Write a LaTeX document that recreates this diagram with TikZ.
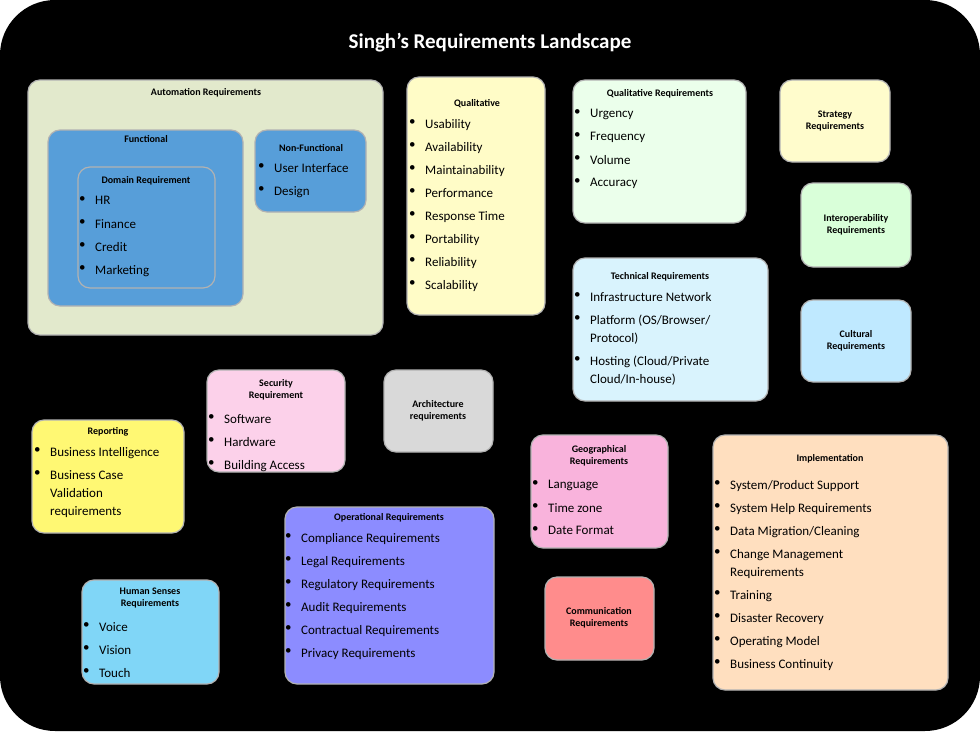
\documentclass[tikz,border=0pt]{standalone}
\usepackage{fontspec}
\setmainfont{Carlito}
\usetikzlibrary{positioning}

\tikzset{
  box/.style={draw=white!70!black, line width=1.2pt, rounded corners=12pt},
  head/.style={font=\bfseries, align=center, inner sep=0pt},
  item/.style={anchor=north west, align=left, inner sep=0pt},
}
% rounded box from corner to corner
\newcommand\rbox[6]{\draw[box, fill=#6] (#2,#3) rectangle (#4,#5) coordinate (#1);}
% bullet item, top at y
\newcommand\bul[4]{%
  \node[item] (#1) at ({#2},{#3-8}) {#4};
  \node[item] (#1-b) at ({#2-16},{#3-8}) {\textbullet};}

\begin{document}
\begin{tikzpicture}[x=1pt, y=-1pt, font=\fontsize{13}{18}\selectfont]
    \useasboundingbox (0,0) rectangle (980,731);
    \fill[black, rounded corners=55pt] (0,0) rectangle (980,731);
    \node[head, text=white, font=\fontsize{21}{24}\selectfont\bfseries] (title) at (490,43) {Singh’s Requirements Landscape};

    % automation
    \rbox{auto}{28}{80}{383}{335}{green!15!olive!20!white}
    \node[head] (autoh) at (206,93) {Automation Requirements};
    \rbox{func}{48}{130}{243}{306}{blue!45!cyan!60!white!85!black}
    \node[head] (funch) at (146,139) {Functional};
    \rbox{dom}{78}{167}{215}{288}{blue!45!cyan!60!white!85!black}
    \node[head] (domh) at (146,181) {Domain Requirement};
    \foreach \t [count=\i from 0] in {HR,Finance,Credit,Marketing}
      {\bul{dom-\i}{95}{204+23*\i}{\t}}
    \rbox{nonf}{255}{130}{366}{212}{blue!45!cyan!60!white!85!black}
    \node[head] (nonfh) at (311,148) {Non-Functional};
    \foreach \t [count=\i from 0] in {User Interface,Design}
      {\bul{nonf-\i}{274}{171+23*\i}{\t}}

    % qualitative
    \rbox{qual}{407}{77}{545}{315}{yellow!22!white}
    \node[head] (qualh) at (477,104) {Qualitative};
    \foreach \t [count=\i from 0] in {Usability,Availability,Maintainability,Performance,Response Time,Portability,Reliability,Scalability}
      {\bul{qual-\i}{425}{127+23*\i}{\t}}

    \rbox{qreq}{573}{80}{746}{223}{green!8!white}
    \node[head] (qreqh) at (660,94) {Qualitative Requirements};
    \foreach \t [count=\i from 0] in {Urgency,Frequency,Volume,Accuracy}
      {\bul{qreq-\i}{590}{117+23*\i}{\t}}

    \rbox{strat}{780}{80}{890}{162}{yellow!20!white}
    \node[head] (strath) at (835,121) {Strategy\\Requirements};
    \rbox{inter}{801}{183}{911}{267}{green!15!white}
    \node[head] (interh) at (856,225) {Interoperability\\Requirements};
    \rbox{cult}{801}{300}{911}{382}{blue!35!cyan!25!white}
    \node[head] (culth) at (856,341) {Cultural\\Requirements};

    % technical
    \rbox{tech}{573}{258}{768}{401}{cyan!15!white}
    \node[head] (techh) at (660,277) {Technical Requirements};
    \bul{tech-0}{590}{300}{Infrastructure Network}
    \bul{tech-1}{590}{323}{Platform (OS/Browser/\\Protocol)}
    \bul{tech-2}{590}{364}{Hosting (Cloud/Private\\Cloud/In-house)}

    % security, architecture
    \rbox{sec}{207}{370}{345}{472}{magenta!18!white}
    \node[head] (sech) at (276,390) {Security\\Requirement};
    \foreach \t [count=\i from 0] in {Software,Hardware,Building Access}
      {\bul{sec-\i}{224}{422+23*\i}{\t}}
    \rbox{arch}{384}{370}{493}{452}{black!15}
    \node[head] (archh) at (438,411) {Architecture\\requirements};

    % reporting
    \rbox{rep}{32}{420}{184}{533}{yellow!55!white}
    \node[head] (reph) at (108,432) {Reporting};
    \bul{rep-0}{50}{455}{Business Intelligence}
    \bul{rep-1}{50}{478}{Business Case\\Validation\\requirements}

    % geographical
    \rbox{geo}{531}{435}{668}{548}{magenta!30!white}
    \node[head] (geoh) at (599,456) {Geographical\\Requirements};
    \foreach \t [count=\i from 0] in {Language,Time zone,Date Format}
      {\bul{geo-\i}{548}{488+23*\i}{\t}}

    % implementation
    \rbox{impl}{713}{435}{948}{690}{orange!25!white}
    \node[head] (implh) at (830,459) {Implementation};
    \bul{impl-0}{730}{488}{System/Product Support}
    \bul{impl-1}{730}{511}{System Help Requirements}
    \bul{impl-2}{730}{534}{Data Migration/Cleaning}
    \bul{impl-3}{730}{557}{Change Management\\Requirements}
    \foreach \t [count=\i from 4] in {Training,Disaster Recovery,Operating Model,Business Continuity}
      {\bul{impl-\i}{730}{598+23*(\i-4)}{\t}}

    % operational
    \rbox{oper}{285}{507}{494}{684}{blue!45!white}
    \node[head] (operh) at (389,518) {Operational Requirements};
    \foreach \t [count=\i from 0] in {Compliance Requirements,Legal Requirements,Regulatory Requirements,Audit Requirements,Contractual Requirements,Privacy Requirements}
      {\bul{oper-\i}{301}{541+23*\i}{\t}}

    % human senses
    \rbox{hum}{82}{580}{219}{684}{cyan!50!white}
    \node[head] (humh) at (150,598) {Human Senses\\Requirements};
    \foreach \t [count=\i from 0] in {Voice,Vision,Touch}
      {\bul{hum-\i}{99}{630+23*\i}{\t}}

    % communication
    \rbox{comm}{545}{577}{654}{660}{red!45!white}
    \node[head] (commh) at (599,618) {Communication\\Requirements};
\end{tikzpicture}
\end{document}
